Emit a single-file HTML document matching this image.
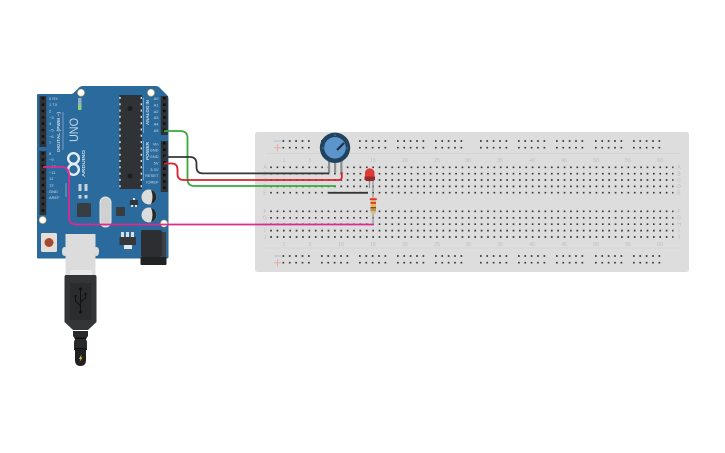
<!DOCTYPE html>
<html><head><meta charset="utf-8"><style>
html,body{margin:0;padding:0;background:#fff;width:725px;height:453px;overflow:hidden}
svg{display:block;filter:blur(.35px)}
text{font-family:"Liberation Sans",sans-serif}
</style></head><body>
<svg width="725" height="453" viewBox="0 0 725 453" xmlns="http://www.w3.org/2000/svg">
<!-- Breadboard -->
<rect x="255" y="132" width="434" height="140" rx="2.5" fill="#dddddd"/>
<line x1="266" y1="153.5" x2="679" y2="153.5" stroke="#d2d2d2" stroke-width=".7"/>
<line x1="266" y1="248" x2="679" y2="248" stroke="#d2d2d2" stroke-width=".7"/>
<g stroke="#3a3a3a" stroke-width="1.7" stroke-dasharray="1.7 4.68" fill="none">
<path d="M270.2 167.3H673.5M270.2 173.7H673.5M270.2 180H673.5M270.2 186.4H673.5M270.2 192.7H673.5M270.2 211.3H673.5M270.2 217.8H673.5M270.2 224.2H673.5M270.2 230.6H673.5M270.2 237H673.5"/>
<path d="M282.5 141H314M321 141H352M359 141H390M397 141H428M435 141H466M480 141H511M518 141H549M556 141H587M595 141H626M633 141H664"/>
<path d="M282.5 147.7H314M321 147.7H352M359 147.7H390M397 147.7H428M435 147.7H466M480 147.7H511M518 147.7H549M556 147.7H587M595 147.7H626M633 147.7H664"/>
<path d="M282.5 256H314M321 256H352M359 256H390M397 256H428M435 256H466M480 256H511M518 256H549M556 256H587M595 256H626M633 256H664"/>
<path d="M282.5 262.7H314M321 262.7H352M359 262.7H390M397 262.7H428M435 262.7H466M480 262.7H511M518 262.7H549M556 262.7H587M595 262.7H626M633 262.7H664"/>
</g>
<path d="M274 141H281" stroke="#a9c5dd" stroke-width="1"/>
<path d="M274 147.7H281M277.5 144.2V151.2" stroke="#e9aaa8" stroke-width="1"/>
<path d="M274 256H281" stroke="#a9c5dd" stroke-width="1"/>
<path d="M274 262.7H281M277.5 259.2V266.2" stroke="#e9aaa8" stroke-width="1"/>
<g fill="#bdbdbd" font-size="5" text-anchor="middle">
<text x="284" y="162">1</text><text x="310" y="162">5</text><text x="341" y="162">10</text><text x="373" y="162">15</text><text x="405" y="162">20</text><text x="437" y="162">25</text><text x="468" y="162">30</text><text x="500" y="162">35</text><text x="532" y="162">40</text><text x="564" y="162">45</text><text x="596" y="162">50</text><text x="628" y="162">55</text><text x="660" y="162">60</text>
<text x="284" y="246">1</text><text x="310" y="246">5</text><text x="341" y="246">10</text><text x="373" y="246">15</text><text x="405" y="246">20</text><text x="437" y="246">25</text><text x="468" y="246">30</text><text x="500" y="246">35</text><text x="532" y="246">40</text><text x="564" y="246">45</text><text x="596" y="246">50</text><text x="628" y="246">55</text><text x="660" y="246">60</text>
<text x="265" y="169">A</text><text x="265" y="175.5">B</text><text x="265" y="182">C</text><text x="265" y="188">D</text><text x="265" y="194.5">E</text>
<text x="265" y="213">F</text><text x="265" y="219.5">G</text><text x="265" y="226">H</text><text x="265" y="232.5">I</text><text x="265" y="239">J</text>
<text x="679" y="169">A</text><text x="679" y="175.5">B</text><text x="679" y="182">C</text><text x="679" y="188">D</text><text x="679" y="194.5">E</text>
<text x="679" y="213">F</text><text x="679" y="219.5">G</text><text x="679" y="226">H</text><text x="679" y="232.5">I</text><text x="679" y="239">J</text>
</g>

<!-- Arduino -->
<path d="M38 94H71Q73 94 74.5 92L79 87.5Q80.5 86 83 86H156Q158 86 159.5 87.5L167 95Q168.5 96.5 168.5 99V257Q168.5 258.5 167 258.5H38Q37 258.5 37 257.5V95Q37 94 38 94Z" fill="#2b6a9c"/>
<circle cx="81" cy="92.7" r="3.4" fill="#fff" stroke="#e8c97a" stroke-width=".7"/>
<circle cx="151" cy="92.7" r="3.4" fill="#fff" stroke="#e8c97a" stroke-width=".7"/>
<circle cx="42.7" cy="220" r="3.4" fill="#fff" stroke="#e8c97a" stroke-width=".7"/>
<circle cx="164" cy="223.5" r="3.4" fill="#fff" stroke="#e8c97a" stroke-width=".7"/>
<!-- headers -->
<g fill="#2f3236">
<rect x="39.5" y="96" width="6.8" height="51"/><rect x="39.5" y="151" width="6.8" height="64"/>
<rect x="160.8" y="96" width="7" height="39"/><rect x="160.8" y="141" width="7" height="51"/>
</g>
<g stroke="#111" stroke-width="2.6" stroke-dasharray="2.6 3.75" fill="none">
<path d="M43 97V147M43 152V215M164.3 97V135M164.3 142V192"/>
</g>
<!-- labels -->
<g fill="#c9d9e6" font-size="4">
<text transform="translate(78,142) rotate(-90)" font-size="12" textLength="24" lengthAdjust="spacingAndGlyphs" fill="#c5d8e8">UNO</text>
<text transform="translate(85,177) rotate(-90)" font-size="4.500" font-weight="bold" textLength="27" lengthAdjust="spacingAndGlyphs">ARDUINO</text>
<text transform="translate(60,152) rotate(-90)" font-size="4.600" textLength="40" lengthAdjust="spacingAndGlyphs" font-weight="bold">DIGITAL (PWM ~)</text>
<text transform="translate(149,125) rotate(-90)" font-size="4.800" textLength="25" lengthAdjust="spacingAndGlyphs" font-weight="bold">ANALOG IN</text>
<text transform="translate(149,160) rotate(-90)" font-size="4.800" textLength="18" lengthAdjust="spacingAndGlyphs" font-weight="bold">POWER</text>
<text x="49" y="100">0 RX</text><text x="49" y="106">1 TX</text><text x="49" y="112.500">2</text><text x="49" y="119">~3</text><text x="49" y="125">4</text><text x="49" y="131.500">~5</text><text x="49" y="138">~6</text><text x="49" y="144">7</text>
<text x="49" y="155">8</text><text x="49" y="161">~9</text><text x="49" y="168">~10</text><text x="49" y="174">~11</text><text x="49" y="180">12</text><text x="49" y="186.500">13</text><text x="49" y="193">GND</text><text x="49" y="199">AREF</text>
<g text-anchor="end"><text x="158.500" y="100">A0</text><text x="158.500" y="106.500">A1</text><text x="158.500" y="113">A2</text><text x="158.500" y="119">A3</text><text x="158.500" y="125.500">A4</text><text x="158.500" y="132">A5</text>
<text x="158.500" y="145.500">Vin</text><text x="158.500" y="151.500">GND</text><text x="158.500" y="158">GND</text><text x="158.500" y="164.500">5V</text><text x="158.500" y="171">3.3V</text><text x="158.500" y="177">RESET</text><text x="158.500" y="183.500">IOREF</text></g>
</g>
<path d="M63 112V150M66 183V197" stroke="#a9c3d8" stroke-width=".6"/>
<path d="M143.500 98V133M143.500 141V180" stroke="#a9c3d8" stroke-width=".6"/>
<!-- logo -->
<g fill="none" stroke="#e6eef5" stroke-width="2.400"><circle cx="73.500" cy="158.500" r="5.300"/><circle cx="73.500" cy="169.500" r="5.300"/></g>
<!-- board LED -->
<rect x="78" y="98" width="3.500" height="9" fill="#8fb0c8"/><rect x="78" y="105" width="3.500" height="5" fill="#8ccf78"/>
<!-- chip -->
<rect x="119.500" y="95" width="22.500" height="94" fill="#2f3236"/>
<g stroke="#e8e8e8" stroke-width="1.300" stroke-dasharray="2 4.300" fill="none"><path d="M120 97V188M141.300 97V188"/></g>
<circle cx="130" cy="108.500" r="2.500" fill="#1c1e20"/><circle cx="130" cy="176" r="2.500" fill="#1c1e20"/>
<!-- small parts -->
<rect x="77" y="203" width="14" height="14" rx="1" fill="#383d42"/>
<rect x="116" y="207" width="9" height="9" rx="1" fill="#383d42"/>
<rect x="130" y="200" width="8" height="5" fill="#30353a"/><rect x="133" y="198" width="2" height="2" fill="#ddd"/><rect x="131" y="205" width="2" height="2" fill="#ddd"/><rect x="135" y="205" width="2" height="2" fill="#ddd"/>
<rect x="78.500" y="184" width="3" height="7" fill="#c9d3da"/><rect x="84.500" y="184" width="3" height="7" fill="#c9d3da"/><rect x="78.500" y="195" width="3" height="3.500" fill="#c9d3da"/><rect x="84.500" y="195" width="3" height="3.500" fill="#c9d3da"/>
<rect x="100" y="197" width="11" height="30" rx="5.500" fill="#cfd0d0" stroke="#e4e4e4" stroke-width="1"/>
<circle cx="149" cy="197" r="7.500" fill="#dcdcdc"/><path d="M151 189.800A7.500 7.500 0 0 1 151 204.200Q154 197 151 189.800Z" fill="#25282b"/>
<circle cx="149" cy="215" r="7.500" fill="#dcdcdc"/><path d="M151 207.800A7.500 7.500 0 0 1 151 222.200Q154 215 151 207.800Z" fill="#25282b"/>
<!-- reset -->
<rect x="41" y="233" width="16" height="19" rx="1.500" fill="#e3dfd8"/><circle cx="49" cy="242.500" r="4.500" fill="#a8482e"/>
<!-- regulator -->
<rect x="121" y="232" width="3" height="5" fill="#dcdcdc"/><rect x="126" y="232" width="3" height="5" fill="#dcdcdc"/><rect x="131" y="232" width="3" height="5" fill="#dcdcdc"/>
<rect x="119.500" y="237" width="16.500" height="8" fill="#34383c"/><rect x="124" y="245" width="8" height="4" fill="#e6e6e6"/>
<!-- barrel jack -->
<rect x="141" y="230" width="21" height="27" rx="2" fill="#2c2e31"/><rect x="140.500" y="257" width="26" height="8" rx="1" fill="#202224"/><rect x="162" y="232" width="4" height="25" fill="#3b3e42"/>
<!-- USB -->
<rect x="65.500" y="234" width="30" height="41" fill="#dcdcdc"/><rect x="62" y="247" width="5" height="9" rx="4" fill="#dcdcdc"/><rect x="94" y="247" width="5" height="9" rx="4" fill="#dcdcdc"/>
<rect x="70" y="270" width="22" height="5" fill="#e8e8e8"/>
<path d="M66 275H95Q96.500 275 96.500 277V322L88 330H73L64.500 322V277Q64.500 275 66 275Z" fill="#333537"/>
<rect x="70" y="283" width="21" height="37" fill="#2a2c2e"/>
<g stroke="#111" fill="none" stroke-width="1"><path d="M80.500 288V312M80.500 306L75.500 301V297M80.500 302L85.500 298V295"/></g>
<circle cx="80.500" cy="289" r="1.500" fill="#111"/><rect x="74.500" y="295" width="2" height="2" fill="#111"/><circle cx="85.500" cy="294" r="1.200" fill="#111"/><circle cx="80.500" cy="312" r="1.500" fill="#111"/>
<path d="M73 331H88V336L86 339L87 342V350H74V342L75 339L73 336Z" fill="#27292b"/>
<rect x="75" y="337.500" width="11" height="1.500" fill="#111"/><rect x="75" y="348" width="11" height="1.500" fill="#111"/>
<path d="M75 350H86V360Q86 366 80.500 366Q75 366 75 360Z" fill="#1f2022"/>
<path d="M81.500 354.500L79 359H80.500L79.500 362L82.500 357.500H81Z" fill="#e6c43a"/>

<!-- Potentiometer -->
<g fill="#8a8f94"><rect x="328" y="158" width="2.200" height="15"/><rect x="334" y="158" width="2.200" height="15"/><rect x="340.300" y="158" width="2.200" height="15"/></g>
<circle cx="335" cy="147.800" r="15.200" fill="#21435f"/>
<circle cx="335" cy="147.800" r="10.800" fill="#5c95cc"/>
<g fill="#5d7d97"><circle cx="335" cy="135" r=".8"/><circle cx="323" cy="148" r=".8"/><circle cx="347" cy="148" r=".8"/></g>
<path d="M337 150L344 143" stroke="#1e3347" stroke-width="2.200" fill="none"/>

<!-- Wires -->
<g fill="none" stroke-linejoin="round" stroke-linecap="butt" stroke-width="1.800">
<path d="M164 131H180Q187.500 131 187.500 138V179Q187.500 186 194.500 186H336" stroke="#3aa83f"/>
<path d="M164 157H190Q196.500 157 196.500 164V167Q196.500 173.400 203 173.400H329" stroke="#34373a"/>
<path d="M164 163.500H172Q177.500 163.500 177.500 170V174Q177.500 180 184 180H339Q341.800 180 341.800 177V172" stroke="#d8212a"/>
<path d="M328 192.800H368" stroke="#34373a"/>
<path d="M43 167H61Q69 167 69 175V217Q69 224.500 77 224.500H374" stroke="#dc2a91"/>
</g>

<!-- LED -->
<path d="M369.500 180V188" stroke="#8f9396" stroke-width="1.200"/><path d="M373 180L373 192" stroke="#8f9396" stroke-width="1.200"/>
<path d="M365 177V172.500A4.800 4.800 0 0 1 374.500 172.500V177Z" fill="#dd3a3a"/>
<path d="M364.500 176.500H375V180Q370 182.500 364.500 180Z" fill="#9a2a2a"/>
<!-- Resistor -->
<path d="M373 193V199M373 213V224" stroke="#8f9396" stroke-width="1.200"/>
<rect x="370.500" y="197" width="5.500" height="17" rx="2.500" fill="#d9bc7b"/>
<rect x="369.800" y="198.300" width="7" height="1.800" fill="#e0322c"/>
<rect x="370.500" y="202" width="5.500" height="1.800" fill="#e0322c"/>
<rect x="370.500" y="205" width="5.500" height="1.300" fill="#e8b43a"/>
<rect x="370.500" y="207" width="5.500" height="1.500" fill="#7c4a22"/>
<rect x="370.500" y="209.500" width="5.500" height="1" fill="#8a6a3a"/>
</svg>
</body></html>
